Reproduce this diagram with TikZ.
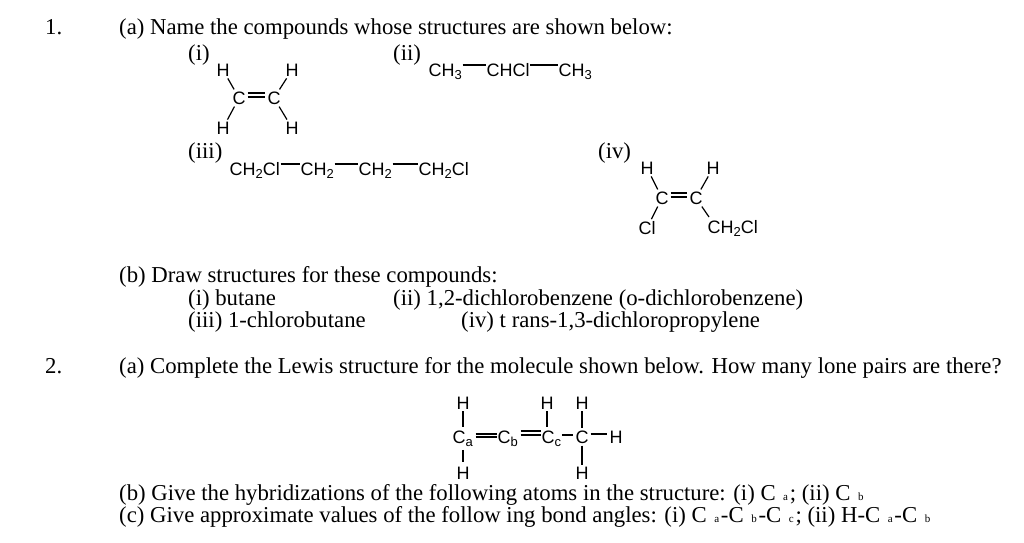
\documentclass[tikz,border=0pt]{standalone}
\usepackage{fontspec}
\setmainfont{Liberation Serif}
\setsansfont{Liberation Sans}
\newcommand{\lbl}[1]{{\fontsize{11}{11}\selectfont\,#1\,}}
\newcommand{\chemsub}[1]{\raisebox{-0.22em}{\fontsize{13}{13}\selectfont #1}}
\tikzset{
  line/.style={anchor=base west,inner sep=0pt,font=\fontsize{22.75}{26}\selectfont},
  atom/.style={inner sep=2pt,font=\sffamily\fontsize{18}{20}\selectfont},
  chain/.style={atom,anchor=base west,inner sep=0.5pt},
  bond/.style={line width=1.2pt}
}
\begin{document}
\begin{tikzpicture}[x=1pt,y=-1pt,line cap=butt]
	\useasboundingbox (0,0) rectangle (1024,542);
	% question text
	\node[line] (q1) at (45,34) {1.};
	\node[line] (q1a) at (119,34) {(a) Name the compounds whose structures are shown below:};
	\node[line] (q1ai) at (188,60) {(i)};
	\node[line] (q1aii) at (393,60) {(ii)};
	\node[line] (q1aiii) at (188,158) {(iii)};
	\node[line] (q1aiv) at (598,158) {(iv)};
	\node[line] (q1b) at (119,282) {(b) Draw structures for these compounds:};
	\node[line] (q1bi) at (188,305) {(i) butane};
	\node[line] (q1bii) at (393,305) {(ii) 1,2-dichlorobenzene (o-dichlorobenzene)};
	\node[line] (q1biii) at (188,327) {(iii) 1-chlorobutane};
	\node[line] (q1biv) at (461,327) {(iv) t rans-1,3-dichloropropylene};
	\node[line] (q2) at (45,373) {2.};
	\node[line] (q2a) at (119,373) {(a) Complete the Lewis structure for the molecule shown below. How many lone pairs are there?};
	\node[line] (q2b) at (119,500) {(b) Give the hybridizations of the following atoms in the structure: (i) C \lbl{a}; (ii) C \lbl{b}};
	\node[line] (q2c) at (119,522) {(c) Give approximate values of the follow ing bond angles: (i) C \lbl{a}-C \lbl{b}-C \lbl{c}; (ii) H-C \lbl{a}-C \lbl{b}};
	% (i)
	\node[atom] (ih1) at (223,70) {H};
	\node[atom] (ih2) at (292,70) {H};
	\node[atom] (ic1) at (239,98) {C};
	\node[atom] (ic2) at (274,98) {C};
	\node[atom] (ih3) at (223,128) {H};
	\node[atom] (ih4) at (292,128) {H};
	\foreach \a/\b in {ih1/ic1,ih2/ic2,ih3/ic1,ih4/ic2}
		\draw[bond] (\a) -- (\b);
	\draw[bond] ([yshift=1pt]ic1.east) -- ([yshift=1pt]ic2.west);
	\draw[bond] ([yshift=5pt]ic1.east) -- ([yshift=5pt]ic2.west);
	% (ii)
	\node[chain] (iia) at (428,76) {CH\chemsub{3}};
	\node[chain] (iib) at (486,76) {CHCl};
	\node[chain] (iic) at (558,76) {CH\chemsub{3}};
	\foreach \a/\b in {iia/iib,iib/iic}
		\draw[bond] ([yshift=11pt]\a.base east) -- ([yshift=11pt]\b.base west);
	% (iii)
	\node[chain] (iiia) at (229,175) {CH\chemsub{2}Cl};
	\node[chain] (iiib) at (300,175) {CH\chemsub{2}};
	\node[chain] (iiic) at (358,175) {CH\chemsub{2}};
	\node[chain] (iiid) at (418,175) {CH\chemsub{2}Cl};
	\foreach \a/\b in {iiia/iiib,iiib/iiic,iiic/iiid}
		\draw[bond] ([yshift=11pt]\a.base east) -- ([yshift=11pt]\b.base west);
	% (iv)
	\node[atom] (ivh1) at (647,168) {H};
	\node[atom] (ivh2) at (713,168) {H};
	\node[atom] (ivc1) at (662,198) {C};
	\node[atom] (ivc2) at (696,198) {C};
	\node[atom] (ivcl) at (647,228) {Cl};
	\node[chain] (ivch) at (707,233) {CH\chemsub{2}Cl};
	\foreach \a/\b in {ivh1/ivc1,ivh2/ivc2,ivcl/ivc1}
		\draw[bond] (\a) -- (\b);
	\draw[bond] (ivc2) -- ([xshift=2pt,yshift=16pt]ivch.base west);
	\draw[bond] ([yshift=1pt]ivc1.east) -- ([yshift=1pt]ivc2.west);
	\draw[bond] ([yshift=5pt]ivc1.east) -- ([yshift=5pt]ivc2.west);
	% Lewis structure
	\node[atom] (lha) at (463,403) {H};
	\node[atom] (lhd) at (463,473) {H};
	\node[chain] (lca) at (452,443) {C\chemsub{a}};
	\node[chain] (lcb) at (497,443) {C\chemsub{b}};
	\node[chain] (lcc) at (541,443) {C\chemsub{c}};
	\node[atom] (lc) at (582,437) {C};
	\node[atom] (lh) at (616,437) {H};
	\node[atom] (lhb) at (547,403) {H};
	\node[atom] (lhc) at (582,403) {H};
	\node[atom] (lhe) at (582,473) {H};
	\draw[bond,shorten >=3pt] (lha) -- (lca.north -| lha);
	\draw[bond,shorten >=3pt,shorten <=2pt] (lca.south -| lhd) -- (lhd);
	\draw[bond,shorten >=3pt] (lhb) -- (lcc.north -| lhb);
	\draw[bond] (lhc) -- (lc);
	\draw[bond] (lc) -- (lhe);
	\draw[bond] ([yshift=3pt]lc.east) -- ([yshift=3pt]lh.west);
	\draw[bond] ([yshift=8pt]lcc.base east) -- ([yshift=2pt]lc.west);
	\draw[bond,shorten <=2pt] ([yshift=6pt]lca.base east) -- ([yshift=6pt]lcb.base west);
	\draw[bond,shorten <=2pt] ([yshift=9pt]lca.base east) -- ([yshift=9pt]lcb.base west);
	\draw[bond,shorten <=2pt] ([yshift=8pt]lcb.base east) -- ([yshift=8pt]lcc.base west);
	\draw[bond,shorten <=2pt] ([yshift=12pt]lcb.base east) -- ([yshift=12pt]lcc.base west);
\end{tikzpicture}
\end{document}
